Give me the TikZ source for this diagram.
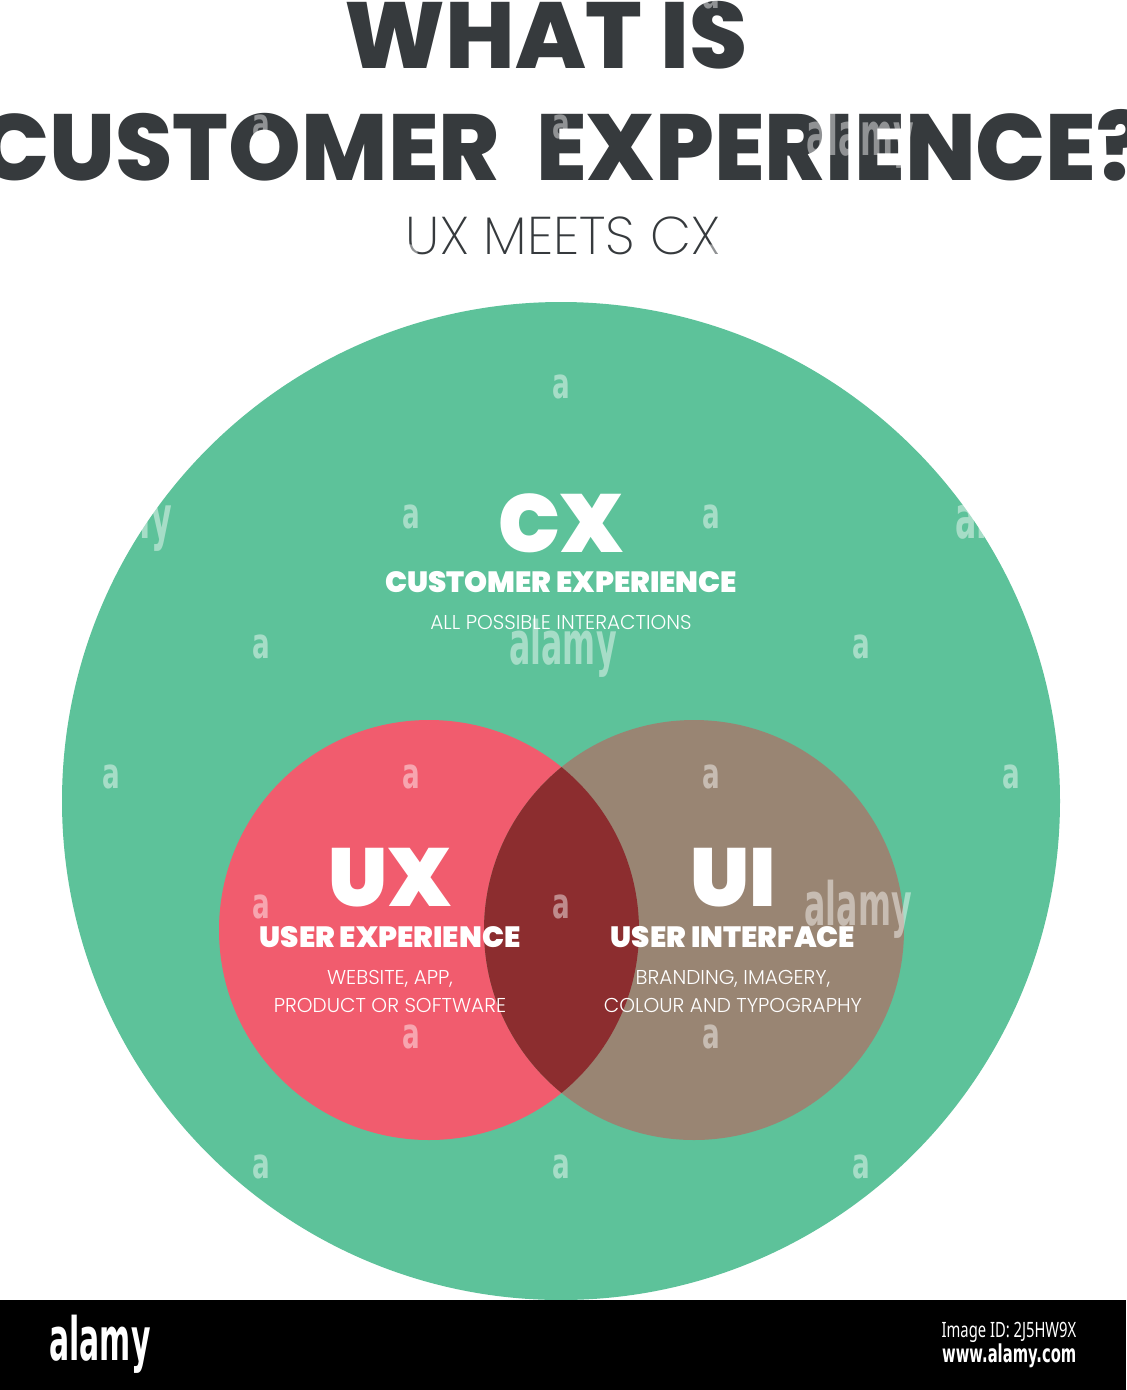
\documentclass[tikz,border=0pt]{standalone}
\usepackage{fontspec}
\setmainfont{Poppins}
\newfontfamily\heavyfont{Poppins Black}
\newfontfamily\boldishfont{Poppins ExtraBold}
\newfontfamily\thinfont{Poppins Light}
\newfontfamily\hairfont{Poppins ExtraLight}
\newfontfamily\stockfont{Noto Sans}
\newfontfamily\stockbold{DejaVu Sans Bold}
\definecolor{titlegrey}{HTML}{363A3D}
\definecolor{cxgreen}{HTML}{5DC29A}
\definecolor{uxred}{HTML}{F15C6E}
\definecolor{uibrown}{HTML}{998573}
\definecolor{overlapred}{HTML}{8C2D2F}
\newcommand{\fsz}[1]{\fontsize{#1}{#1}\selectfont}
\newcommand{\nrw}[2][.5]{\scalebox{#1}[1]{#2}}
\tikzset{
	titletxt/.style={text=titlegrey, inner sep=0pt, font=\boldishfont\fsz{26.7}},
	subtxt/.style={text=titlegrey, inner sep=0pt, font=\hairfont\fsz{15.1}},
	bigtxt/.style={text=white, inner sep=0pt, font=\heavyfont\fsz{23.4}},
	midtxt/.style={text=white, inner sep=0pt, font=\heavyfont\fsz{8.33}},
	smalltxt/.style={text=white, inner sep=0pt, align=center, font=\thinfont\fsz{5.7}},
	wmsmall/.style={text=white, text opacity=.45, inner sep=0pt, font=\stockbold\fsz{12}},
	wmbig/.style={text=white, text opacity=.45, inner sep=0pt, font=\stockbold\fsz{17}},
}
\begin{document}
\begin{tikzpicture}[x=0.01cm, y=-0.01cm, line join=round, line cap=round]
	\useasboundingbox (0,0) rectangle (1126,1390);
	\fill[white] (0,0) rectangle (1126,1390);
	% venn circles
	\fill[cxgreen] (561,801) circle[radius=499];
	\fill[uxred] (429,930) circle[radius=210];
	\fill[uibrown] (694,930) circle[radius=210];
	\begin{scope}
		\clip (429,930) circle[radius=210];
		\fill[overlapred] (694,930) circle[radius=210];
	\end{scope}
	% stock band
	\fill[black] (0,1300) rectangle (1126,1390);
	% title
	\node[titletxt] (title1) at (546,35) {WHAT IS};
	\node[titletxt] (title2) at (563,145) {\nrw[.985]{CUSTOMER\hspace{10.5pt}EXPERIENCE?}};
	\node[subtxt] (subtitle) at (563,236) {UX MEETS CX};
	% labels
	\node[bigtxt] (cx) at (561,523) {CX};
	\node[midtxt] (cxname) at (561,582) {CUSTOMER EXPERIENCE};
	\node[smalltxt] (cxtext) at (561,622) {ALL POSSIBLE INTERACTIONS};
	\node[bigtxt] (ux) at (390,878) {UX};
	\node[midtxt] (uxname) at (390,937) {USER EXPERIENCE};
	\node[smalltxt] (uxtext) at (390,991.5) {WEBSITE, APP,\\[2.4pt]PRODUCT OR SOFTWARE};
	\node[bigtxt] (ui) at (733,878) {UI};
	\node[midtxt] (uiname) at (733,937) {USER INTERFACE};
	\node[smalltxt] (uitext) at (733,991.5) {BRANDING, IMAGERY,\\[2.4pt]COLOUR AND TYPOGRAPHY};
	% watermarks
	\foreach \wx/\wy in {561/387, 411/517, 711/517, 261/647, 861/647, 111/777, 411/777, 711/777, 1011/777, 261/907, 561/907, 411/1037, 711/1037, 261/1167, 561/1167, 861/1167, 261/127, 561/127, 711/-3, 411/257, 711/257}
		\node[wmsmall] (wm\wx-\wy) at (\wx,\wy) {\nrw[.62]{a}};
	\foreach \wx/\wy in {563/648, 858/909, 860/139, 118/522, 1009/522}
		\node[wmbig] (wmb\wx-\wy) at (\wx,\wy) {\nrw[.53]{alamy}};
	% stock band text
	\node[text=white, inner sep=0pt, font=\stockbold\fsz{17}] (bandlogo) at (100,1344) {\nrw[.5]{alamy}};
	\node[text=white, inner sep=0pt, anchor=east, font=\stockfont\fsz{6}] (bandid) at (1077,1332) {\nrw[.7]{Image ID: 2J5HW9X}};
	\node[text=white, inner sep=0pt, anchor=east, font=\stockbold\fsz{7}] (bandweb) at (1077,1356) {\nrw[.6]{www.alamy.com}};
\end{tikzpicture}
\end{document}
